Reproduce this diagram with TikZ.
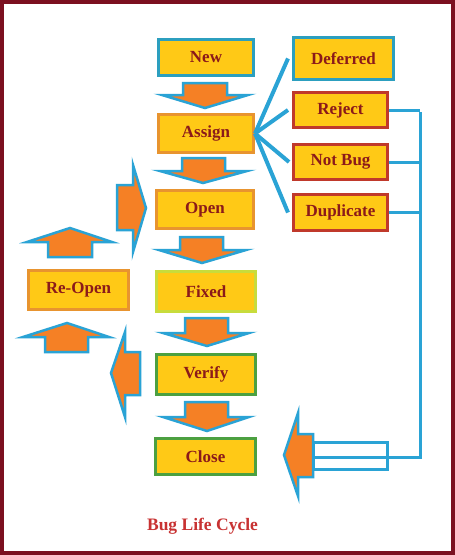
\documentclass[tikz,border=0pt]{standalone}
\usepackage{fontspec}
\setmainfont{Liberation Serif}
\definecolor{boxfill}{HTML}{FFC916}
\definecolor{txtred}{HTML}{8B1A1A}
\definecolor{ttlred}{HTML}{C83232}
\definecolor{lblue}{HTML}{2AA3D5}
\definecolor{teal}{HTML}{2C9FBF}
\definecolor{borange}{HTML}{E8942F}
\definecolor{bred}{HTML}{C0392B}
\definecolor{bygreen}{HTML}{C8DC3C}
\definecolor{bgreen}{HTML}{4CA040}
\definecolor{aorange}{HTML}{F58025}
\definecolor{framered}{HTML}{7B1020}
\begin{document}
\begin{tikzpicture}[x=1pt,y=-1pt,
  box/.style={draw, line width=3pt, fill=boxfill, text=txtred, inner sep=0pt,
    font=\bfseries\fontsize{17}{19}\selectfont},
  blockarrow/.style={draw=lblue, fill=aorange, line width=2.5pt, line join=miter},
  fan/.style={draw=lblue, line width=4pt},
  bus/.style={draw=lblue, line width=3pt}]
\useasboundingbox (0,0) rectangle (455,555);
\fill[white] (0,0) rectangle (455,555);
\draw[line width=4pt, framered] (2,2) rectangle (453,553);

% main column
\node[box, draw=teal, minimum width=95pt, minimum height=36pt] (new) at (206,57.5) {New};
\node[box, draw=borange, minimum width=95pt, minimum height=38pt] (asg) at (206,133.5) {Assign};
\node[box, draw=borange, minimum width=97pt, minimum height=38pt] (opn) at (205,209.5) {Open};
\node[box, draw=bygreen, minimum width=99pt, minimum height=40pt] (fix) at (206,291.5) {Fixed};
\node[box, draw=bgreen, minimum width=99pt, minimum height=40pt] (ver) at (206,374.5) {Verify};
\node[box, draw=bgreen, minimum width=100pt, minimum height=36pt] (cls) at (205.5,456.5) {Close};
\node[box, draw=borange, minimum width=100pt, minimum height=39pt] (reo) at (78.5,290) {Re-Open};

% right column
\node[box, draw=teal, minimum width=100pt, minimum height=42pt] (def) at (343.5,58.5) {Deferred};
\node[box, draw=bred, minimum width=94pt, minimum height=35pt] (rej) at (340.5,110) {Reject};
\node[box, draw=bred, minimum width=94pt, minimum height=35pt] (nbg) at (340.5,162) {Not Bug};
\node[box, draw=bred, minimum width=94pt, minimum height=36pt] (dup) at (340.5,212.5) {Duplicate};

% title
\node[text=ttlred, font=\bfseries\fontsize{17.5}{19}\selectfont] (ttl) at (202.5,526) {Bug Life Cycle};

% down block arrows
\path[blockarrow] (183,83) -- (227,83) -- (227,95) -- (248,95) -- (205,108) -- (162,95) -- (183,95) -- cycle;
\path[blockarrow] (182,158) -- (225,158) -- (225,171) -- (247,171) -- (203,183) -- (160,171) -- (182,171) -- cycle;
\path[blockarrow] (180,237) -- (223,237) -- (223,250) -- (246,250) -- (202,263) -- (159,250) -- (180,250) -- cycle;
\path[blockarrow] (185,318) -- (228,318) -- (228,333) -- (249,333) -- (207,346) -- (163,333) -- (185,333) -- cycle;
\path[blockarrow] (185,402) -- (228,402) -- (228,417) -- (249,417) -- (207,431) -- (163,417) -- (185,417) -- cycle;

% up block arrows
\path[blockarrow] (48,257) -- (92,257) -- (92,242) -- (112,242) -- (70,228) -- (27,242) -- (48,242) -- cycle;
\path[blockarrow] (45,352) -- (88,352) -- (88,337) -- (109,337) -- (67,323) -- (23,337) -- (45,337) -- cycle;

% right block arrow into Open
\path[blockarrow] (117,185) -- (117,230) -- (133,230) -- (133,252) -- (146,208) -- (133,165) -- (133,185) -- cycle;
% left block arrow beside Verify
\path[blockarrow] (140,352) -- (140,395) -- (125,395) -- (125,417) -- (111,373) -- (125,332) -- (125,352) -- cycle;
% left block arrow into Close
\path[blockarrow] (313,434) -- (313,477) -- (298,477) -- (298,496) -- (284,455) -- (298,413) -- (298,434) -- cycle;
\draw[bus] (313,442) rectangle (387,469);

% fan from Assign
\draw[fan] (asg.east) -- ([xshift=-4pt]def.west);
\draw[fan] (asg.east) -- ([xshift=-4pt]rej.west);
\draw[fan] (asg.east) -- ([xshift=-3pt]nbg.west);
\draw[fan] (asg.east) -- ([xshift=-4pt]dup.west);

% bus to Close
\coordinate (bt) at (420,110);
\coordinate (bb) at (420,457);
\coordinate (bl) at (313,457);
\draw[bus] (rej.east) -- (bt);
\draw[bus] ([yshift=-2pt]bt) -- (bb) -- (bl);
\draw[bus] (nbg.east) -- (nbg.east -| bt);
\draw[bus] (dup.east) -- (dup.east -| bt);
\end{tikzpicture}
\end{document}
